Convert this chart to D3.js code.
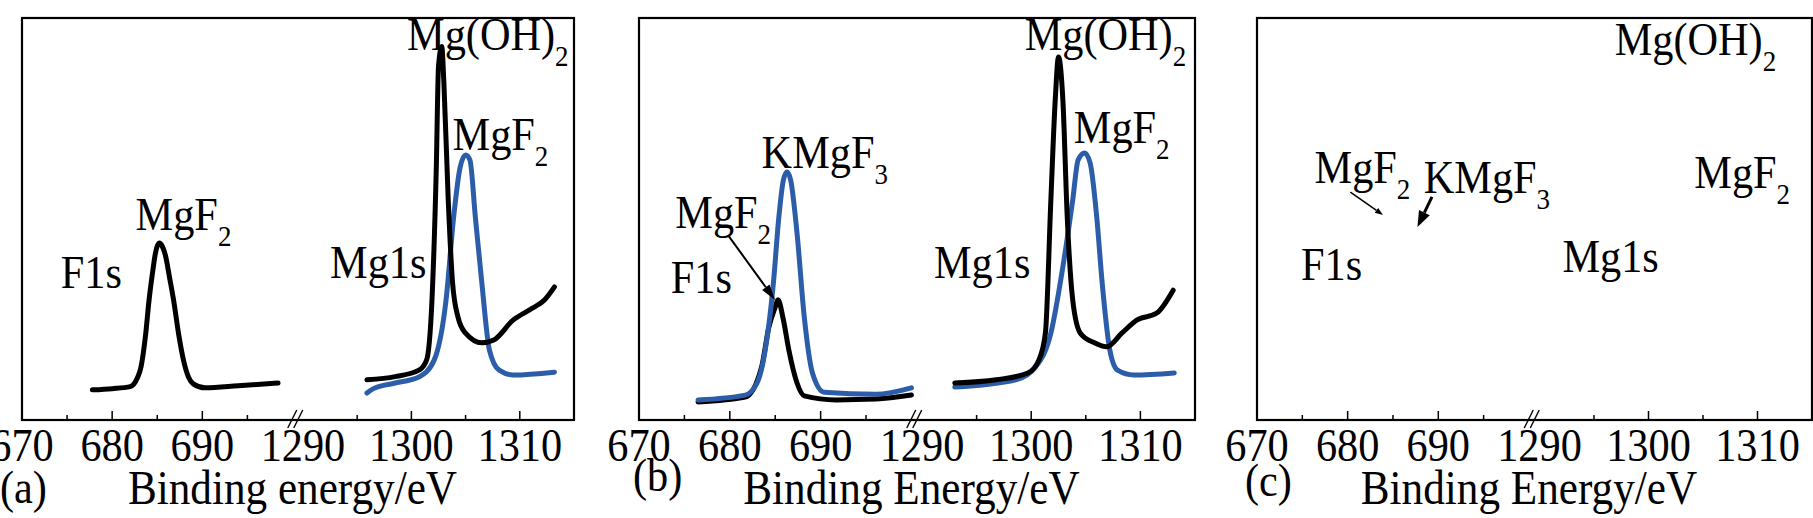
<!DOCTYPE html>
<html>
<head>
<meta charset="utf-8">
<script src="https://cdn.jsdelivr.net/npm/d3@7"></script>
<style>
  body { margin: 0; background: #fff; }
  text { font-family: "Liberation Serif", "Times New Roman", serif; fill: #000; }
</style>
</head>
<body>
<svg id="chart" width="1813" height="518"></svg>
<script>
// axis ticks (broken axis: 670-700 | 1290-1315)
const majorTicks = [680, 690, 1300, 1310]
const minorTicks = [675, 685, 695, 1295, 1305]
const tickLabels = [670, 680, 690, 1290, 1300, 1310]

// (a) F1s, black : [eV, intensity a.u.]
const aF1s = [[677.8, 7.5], [680, 7.8], [682, 8.3], [682.8, 10.5], [683.2, 13.2], [683.7, 21], [684.1, 30],
  [684.5, 37], [684.8, 41.5], [685.2, 44], [685.6, 43], [685.9, 41], [686.4, 35], [686.8, 30], [687.4, 21],
  [687.9, 15], [688.5, 10.5], [689, 9], [690.3, 8], [694, 8.5], [698.4, 9.2]]
// (a) Mg1s, black (Mg(OH)2)
const aMgBlack = [[1295.9, 10], [1298.5, 10.8], [1300.7, 12.4], [1301.4, 14.9], [1301.9, 29.9], [1302.3, 63],
  [1302.5, 87.9], [1302.8, 92.9], [1303, 83.8], [1303.4, 54.7], [1303.8, 34.1], [1304.3, 25.6], [1305, 21.6],
  [1306.5, 19.2], [1307.6, 19.9], [1309.4, 24.9], [1310.9, 27.4], [1312.3, 29.9], [1313.2, 33.1]]
// (a) Mg1s, blue (MgF2)
const aMgBlue = [[1295.9, 6.7], [1296.5, 7.8], [1298.5, 9.2], [1300.7, 10.7], [1302.1, 14.9], [1303.2, 29.9],
  [1303.9, 50.5], [1304.5, 62.9], [1305, 65.9], [1305.4, 64.7], [1305.9, 50.5], [1306.5, 34.1], [1307.2, 17.4],
  [1308.1, 12.4], [1309.4, 11.2], [1313.2, 11.9]]

// (b) F1s, black and blue
const bF1sBlack = [[676.5, 4.5], [681.7, 5.7], [683.5, 13.2], [684.3, 23.1], [685, 28.1], [685.3, 29.9],
  [685.9, 24.9], [686.5, 17.4], [687.4, 9.2], [688.2, 6.0], [691.7, 5.0], [696.1, 5.2], [700, 6.2]]
const bF1sBlue = [[676.5, 5], [681.7, 6.2], [683, 9.2], [683.9, 17.4], [684.8, 34.1], [685.4, 50.5],
  [685.9, 59.7], [686.3, 61.7], [686.7, 59.7], [687.4, 46.5], [688.2, 25.6], [689.1, 11.7], [690.4, 6.9],
  [696.1, 6.4], [700, 8.0]]
// (b) Mg1s, black and blue
const bMgBlack = [[1293, 9.2], [1296.8, 10], [1299.7, 11.7], [1300.7, 14.9], [1301.3, 21.6], [1301.8, 54.7],
  [1302.2, 79.6], [1302.5, 90.3], [1302.9, 79.6], [1303.3, 50.5], [1303.8, 29.9], [1304.5, 21.6],
  [1305.8, 19.2], [1306.9, 18.2], [1308.3, 21.6], [1309.7, 24.9], [1311.5, 26.6], [1313, 32.3]]
const bMgBlue = [[1293, 8.2], [1298.6, 10], [1300.4, 13.2], [1301.8, 21.6], [1302.9, 38.1], [1303.8, 54.7],
  [1304.3, 64.7], [1304.9, 66.4], [1305.4, 63.9], [1306, 50.5], [1306.5, 34.1], [1307.2, 17.4],
  [1307.9, 12.4], [1309.4, 11.2], [1313.1, 11.7]]

const BLACK = '#000'
const BLUE = '#2c5da9'

// peak labels, anchored in data coordinates [eV, intensity]
const aNotes = [
  { main: 'Mg(OH)', sub: '2', at: [1299.6, 92.0] },
  { main: 'MgF', sub: '2', at: [1303.8, 67.2] },
  { main: 'MgF', sub: '2', at: [682.6, 47.3] },
  { main: 'F1s', at: [674.3, 32.8] },
  { main: 'Mg1s', at: [1292.5, 35.3] }
]
const bNotes = [
  { main: 'Mg(OH)', sub: '2', at: [1299.4, 92.0] },
  { main: 'MgF', sub: '2', at: [1303.9, 68.9] },
  { main: 'KMgF', sub: '3', at: [683.5, 62.7] },
  { main: 'MgF', sub: '2', at: [674.0, 47.8] },
  { main: 'F1s', at: [673.5, 31.6] },
  { main: 'Mg1s', at: [1291.1, 35.3] }
]
const cNotes = [
  { main: 'Mg(OH)', sub: '2', at: [1296.9, 90.8] },
  { main: 'MgF', sub: '2', at: [1304.2, 57.7] },
  { main: 'MgF', sub: '2', at: [676.35, 59.0] },
  { main: 'KMgF', sub: '3', at: [688.4, 56.5] },
  { main: 'F1s', at: [674.85, 34.8] },
  { main: 'Mg1s', at: [1292.1, 36.8] }
]
const bArrows = [{ from: [679.8, 46.0], to: [685.0, 29.8], w: 2, head: 16, half: 4.5 }]
const cArrows = [
  { from: [680.3, 56.7], to: [683.9, 51.0], w: 1.5, head: 8, half: 3 },
  { from: [689.3, 55.5], to: [687.7, 48.0], w: 3, head: 16, half: 6 }
]

const panels = [
  { x0: 22, w: 552, tag: '(a)', tagDx: -22, tagY: 503, title: 'Binding energy/eV',
    lines: [[aF1s, BLACK], [aMgBlue, BLUE], [aMgBlack, BLACK]], notes: aNotes, arrows: [] },
  { x0: 639, w: 556, tag: '(b)', tagDx: -6, tagY: 491, title: 'Binding Energy/eV',
    lines: [[bF1sBlack, BLACK], [bF1sBlue, BLUE], [bMgBlue, BLUE], [bMgBlack, BLACK]], notes: bNotes, arrows: bArrows },
  { x0: 1257, w: 555, tag: '(c)', tagDx: -12, tagY: 496, title: 'Binding Energy/eV',
    lines: [], notes: cNotes, arrows: cArrows }
]

const plotTop = 18
const h = 402
const svg = d3.select('#chart')

function label(g, x, y, main, sub, size, anchor) {
  const t = g.append('text')
    .attr('transform', `translate(${x},${y}) scale(0.9,1)`)
    .attr('font-size', size)
    .attr('text-anchor', anchor || 'start')
  t.append('tspan').text(main)
  if (sub) t.append('tspan').attr('font-size', 30).attr('dy', 16).text(sub)
}

panels.forEach(p => {
  const g = svg.append('g').attr('transform', `translate(${p.x0},${plotTop})`)
  const xl = d3.scaleLinear().domain([670, 700]).range([0, p.w * 0.49])
  const xr = d3.scaleLinear().domain([1290, 1315]).range([p.w * 0.509, p.w])
  const x = e => e < 1000 ? xl(e) : xr(e)
  const y = d3.scaleLinear().domain([0, 100]).range([h, 0])

  // spectra
  const line = d3.line().x(d => x(d[0])).y(d => y(d[1])).curve(d3.curveMonotoneX)
  p.lines.forEach(([data, color]) => {
    g.append('path')
      .attr('d', line(data))
      .attr('fill', 'none')
      .attr('stroke', color)
      .attr('stroke-width', 5)
      .attr('stroke-linejoin', 'round')
      .attr('stroke-linecap', 'round')
  })

  // frame
  g.append('rect')
    .attr('width', p.w).attr('height', h)
    .attr('fill', 'none').attr('stroke', '#000').attr('stroke-width', 2.2)

  // ticks, inward
  majorTicks.forEach(t => {
    g.append('line').attr('x1', x(t)).attr('x2', x(t)).attr('y1', h).attr('y2', h - 9)
      .attr('stroke', '#000').attr('stroke-width', 1.5)
  })
  minorTicks.forEach(t => {
    g.append('line').attr('x1', x(t)).attr('x2', x(t)).attr('y1', h).attr('y2', h - 5)
      .attr('stroke', '#000').attr('stroke-width', 1.5)
  })
  tickLabels.forEach(t => label(g, x(t), h + 41, String(t), null, 47, 'middle'))

  // axis break marks
  const bx = (xl(700) + xr(1290)) / 2 - 2
  ;[-3, 3].forEach(o => {
    g.append('line')
      .attr('x1', bx + o - 5).attr('y1', h + 8)
      .attr('x2', bx + o + 4).attr('y2', h - 10)
      .attr('stroke', '#000').attr('stroke-width', 1.4)
  })

  // peak labels
  p.notes.forEach(n => label(g, x(n.at[0]), y(n.at[1]), n.main, n.sub, 47))

  // arrows
  p.arrows.forEach(a => {
    const x1 = x(a.from[0]), y1 = y(a.from[1]), x2 = x(a.to[0]), y2 = y(a.to[1])
    const ang = Math.atan2(y2 - y1, x2 - x1)
    const bxh = x2 - a.head * Math.cos(ang), byh = y2 - a.head * Math.sin(ang)
    g.append('line').attr('x1', x1).attr('y1', y1).attr('x2', bxh).attr('y2', byh)
      .attr('stroke', '#000').attr('stroke-width', a.w)
    const nx = -Math.sin(ang) * a.half, ny = Math.cos(ang) * a.half
    g.append('path')
      .attr('d', `M${x2},${y2}L${bxh + nx},${byh + ny}L${bxh - nx},${byh - ny}Z`)
      .attr('fill', '#000')
  })

  // panel tag and axis title
  label(g, p.tagDx, p.tagY - plotTop, p.tag, null, 47)
  label(g, p.w * 0.49, 504 - plotTop, p.title, null, 48, 'middle')
})
</script>
</body>
</html>
